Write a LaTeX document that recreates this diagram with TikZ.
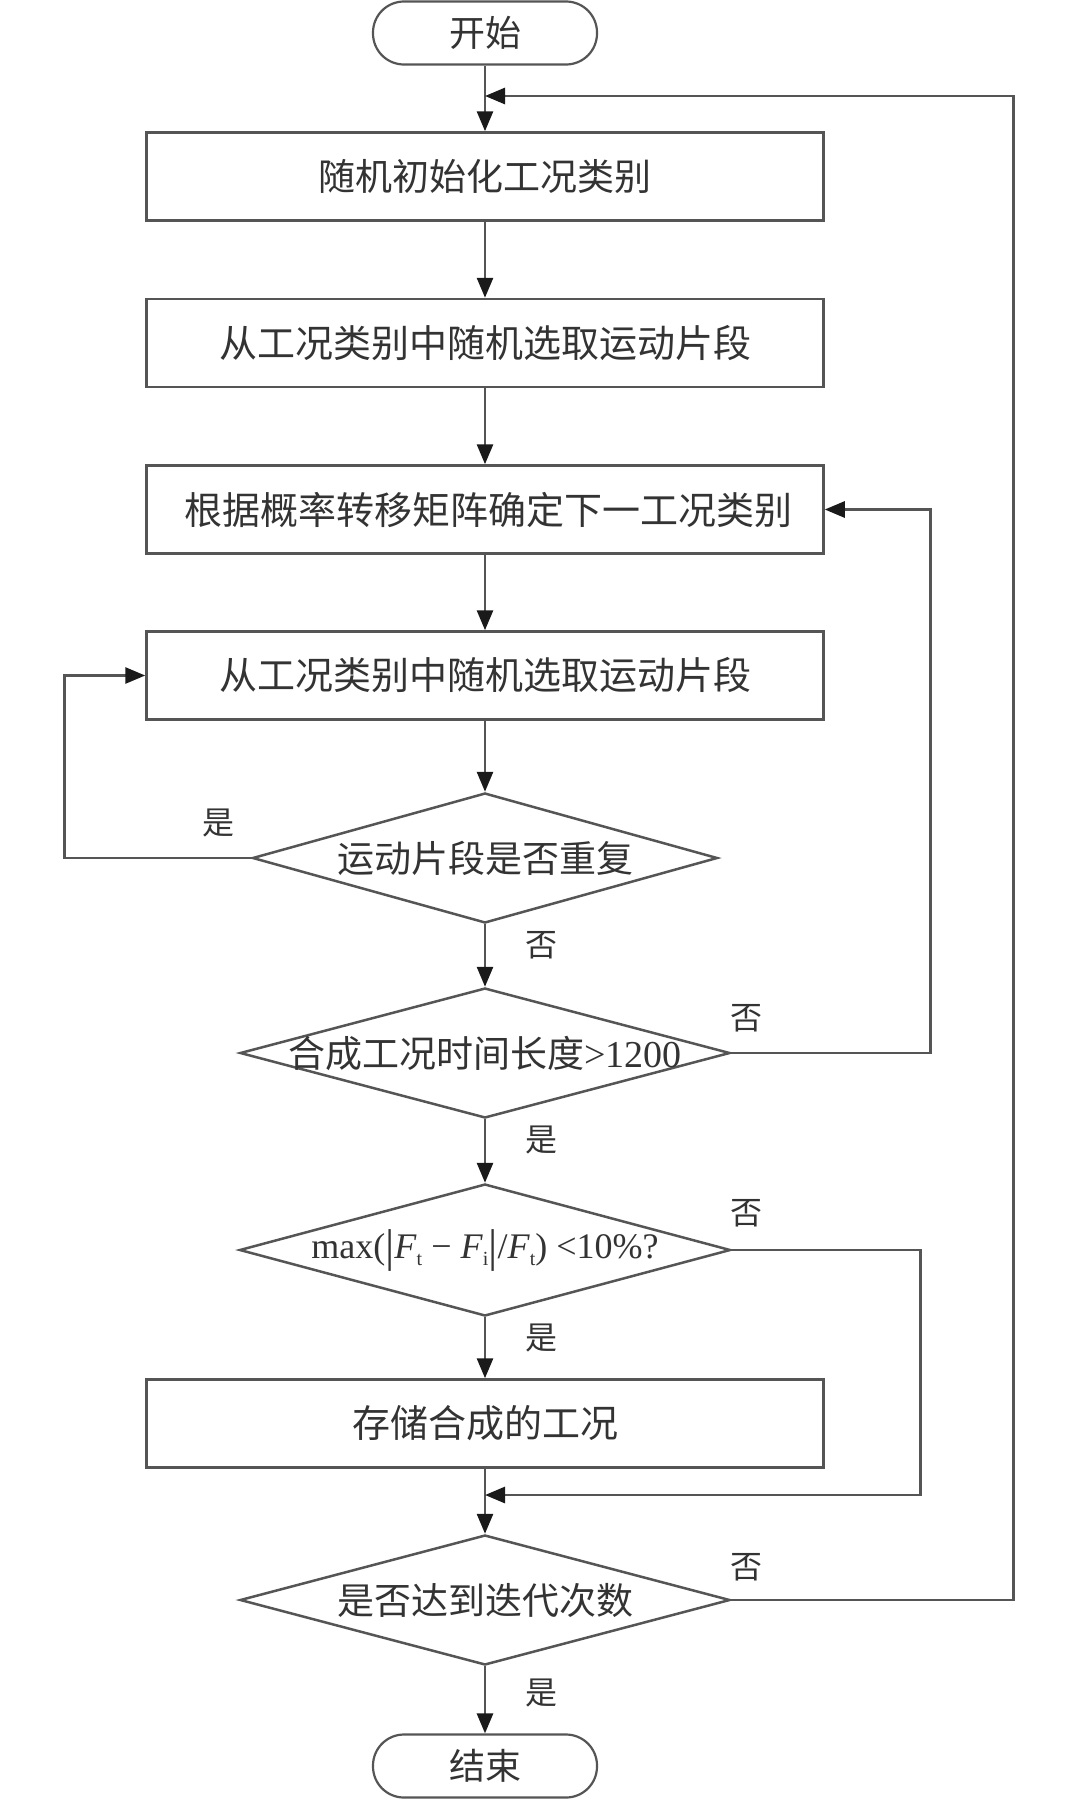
\documentclass[tikz,border=0pt]{standalone}
\usepackage{fontspec}
\setmainfont{Liberation Serif}
\newfontfamily\cjk{Noto Sans CJK SC}
\usetikzlibrary{arrows.meta,shapes.geometric}
\definecolor{lncol}{HTML}{555555}
\definecolor{txcol}{HTML}{333333}
\definecolor{tipcol}{HTML}{1A1A1A}
\newcommand{\bigbar}{{\fontsize{46}{46}\selectfont\raisebox{-3pt}{|}}}
\begin{document}
\begin{tikzpicture}[x=1pt,y=-1pt,
  every node/.style={text=txcol},
  proc/.style={draw=lncol, line width=2.5pt, minimum width=677pt, minimum height=88pt, inner sep=0pt, font=\cjk\fontsize{38}{44}\selectfont},
  term/.style={draw=lncol, line width=2.2pt, rounded corners=31pt, minimum width=224pt, minimum height=63pt, inner sep=0pt, font=\cjk\fontsize{36}{40}\selectfont},
  dec/.style={draw=lncol, line width=2.5pt, diamond, inner sep=0pt},
  dtext/.style={font=\cjk\fontsize{37}{42}\selectfont, inner sep=0pt},
  lbl/.style={font=\cjk\fontsize{32}{36}\selectfont, inner sep=0pt},
  conn/.style={draw=lncol, line width=2.8pt},
  arr/.style={conn, -{Triangle[length=20pt,width=16pt,color=tipcol]}}]
\useasboundingbox (0,0) rectangle (1080,1804);
\fill[white] (0,0) rectangle (1080,1804);

\node[term] (start) at (485,33) {开始};
\coordinate (j1) at (485,96);
\node[proc] (b1) at (485,176.5) {\fontsize{37}{42}\selectfont 随机初始化工况类别};
\node[proc] (b2) at (485,343) {从工况类别中随机选取运动片段};
\node[proc] (b3) at (485,509.5) {\hspace*{6pt}根据概率转移矩阵确定下一工况类别};
\node[proc] (b4) at (485,675.5) {从工况类别中随机选取运动片段};
\node[dec, minimum width=465pt, minimum height=130pt] (d1) at (485,858) {};
\node[dtext] (t1) at (d1) {运动片段是否重复};
\node[dec, minimum width=490pt, minimum height=130pt] (d2) at (485,1053) {};
\node[dtext] (t2) at (d2) {合成工况时间长度{\rmfamily\fontsize{38}{42}\selectfont >1200}};
\node[dec, minimum width=491pt, minimum height=132pt] (d3) at (485,1250) {};
\node[dtext, font=\rmfamily\fontsize{36}{40}\selectfont] (t3) at (d3) {max(\bigbar\textit{F}{\fontsize{20}{20}\selectfont\raisebox{-7pt}{t}} − \textit{F}{\fontsize{20}{20}\selectfont\raisebox{-7pt}{i}}\bigbar/\textit{F}{\fontsize{20}{20}\selectfont\raisebox{-7pt}{t}}) <10\%?};
\node[proc] (b5) at (485,1423.5) {存储合成的工况};
\coordinate (j2) at (485,1495);
\node[dec, minimum width=490pt, minimum height=130pt] (d4) at (485,1600) {};
\node[dtext] (t4) at (d4) {是否达到迭代次数};
\node[term] (end) at (485,1766) {结束};

\draw[arr] (start) -- (b1);
\draw[arr] (b1) -- (b2);
\draw[arr] (b2) -- (b3);
\draw[arr] (b3) -- (b4);
\draw[arr] (b4) -- (d1);
\draw[arr] (d1) -- (d2);
\draw[arr] (d2) -- (d3);
\draw[arr] (d3) -- (b5);
\draw[arr] (b5) -- (d4);
\draw[arr] (d4) -- (end);

\draw[arr] (d1.west) -- ++(-187,0) |- (b4.west);
\draw[arr] (d2.east) -- ++(199,0) |- (b3.east);
\draw[arr] (d3.east) -- ++(189,0) |- (j2);
\draw[arr] (d4.east) -- ++(282,0) |- (j1);

\node[lbl] (l1) at (218,823) {是};
\node[lbl] (l2) at (541,945) {否};
\node[lbl] (l3) at (746,1018) {否};
\node[lbl] (l4) at (541,1140) {是};
\node[lbl] (l5) at (746,1213) {否};
\node[lbl] (l6) at (541,1338) {是};
\node[lbl] (l7) at (746,1567) {否};
\node[lbl] (l8) at (541,1693) {是};
\end{tikzpicture}
\end{document}
